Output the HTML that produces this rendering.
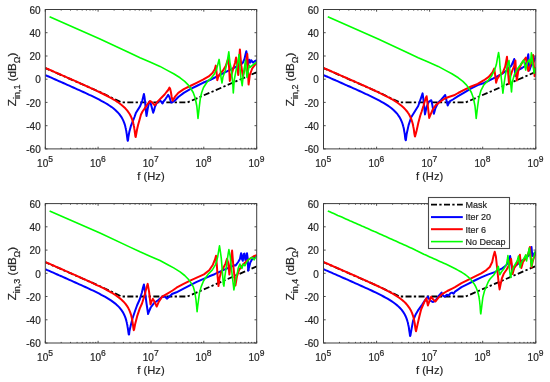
<!DOCTYPE html>
<html><head><meta charset="utf-8"><title>Zin plots</title>
<style>
html,body{margin:0;padding:0;background:#fff;}
body{width:550px;height:382px;overflow:hidden;}
svg{display:block;font-family:"Liberation Sans",Arial,Helvetica,sans-serif;fill:#262626;}
text{stroke:#262626;stroke-width:0.2;}
.ax{fill:none;stroke:#3c3c3c;stroke-width:1;}
.tk{stroke:#3c3c3c;stroke-width:0.9;fill:none;}
.tl{font-size:10px;}
.ex{font-size:8.5px;}
.lb{font-size:11.2px;}
.yl{font-size:11.6px;}
.sb{font-size:9px;}
.lg{font-size:9px;}
.c{fill:none;stroke-width:2;stroke-linejoin:round;stroke-linecap:butt;}
.k{stroke:#000;stroke-width:1.8;stroke-dasharray:6 2.3 2.3 2.4;}
.b{stroke:#0000ff;}
.r{stroke:#ff0000;}
.g{stroke:#00ff00;stroke-width:1.6;}
</style></head><body>
<svg width="550" height="382" viewBox="0 0 550 382">
<rect x="0" y="0" width="550" height="382" fill="#fff"/>

<g>
<clipPath id="cpTL"><rect x="45.3" y="9.5" width="211.4" height="139.4"/></clipPath>
<g clip-path="url(#cpTL)">
<path class="c k" d="M45.3 68.1 L85 85.5 L100 92.1 L121.6 102.4 L187.5 102.4 L256.9 72.2" style="stroke-dashoffset:1.6"/>
<path class="c b" d="M45.3 75.1 L47.3 76 L49.3 76.8 L51.3 77.7 L53.3 78.6 L55.3 79.5 L57.3 80.4 L59.3 81.3 L61.3 82.1 L63.3 83 L65.3 83.9 L67.3 84.8 L69.3 85.7 L71.3 86.6 L73.3 87.5 L75.3 88.4 L77.3 89.3 L79.3 90.2 L81.3 91.1 L83.3 92 L85.3 92.9 L87.3 93.8 L89.3 94.8 L91.3 95.7 L93.3 96.7 L95.3 97.7 L97.3 98.7 L99.3 99.7 L101.3 100.8 L103.3 101.8 L105.3 103 L107.3 104.2 L109.3 105.5 L111.3 106.8 L113.3 108.3 L115.3 110 L117.3 111.9 L119.3 114.1 L121.3 116.9 L121.8 117.7 L122.3 118.6 L122.8 119.6 L123.3 120.6 L123.8 121.8 L124.3 123.1 L124.8 124.6 L125.3 126.4 L125.5 127.4 L125.8 128.5 L126 129.7 L126.3 131.1 L126.5 132.6 L126.8 134.3 L127 136.2 L127.3 138.3 L127.5 140 L127.8 140.8 L128.1 140 L128.4 137 L129.3 132 L130.9 125.9 L132.5 122 L134.5 117 L136 112.7 L138.6 108.6 L140.2 106 L142.3 100.6 L143.3 96.5 L143.9 94 L144.5 97 L145 101 L146 112 L146.5 116 L147 113 L147.7 108.9 L148.6 104.5 L149.4 101.5 L150.2 102.3 L151.1 104.7 L152.2 109 L153.2 112.7 L154 110.5 L154.8 107.2 L156.2 104 L157.8 101.8 L160.3 100.6 L161.5 102.2 L162.4 103.5 L163.5 101.5 L165.3 99.3 L167 96.8 L168.2 94.9 L169 96.2 L169.6 97.5 L170.5 100.5 L171.3 102.6 L172.5 102.3 L174.7 100.7 L178.3 97 L183.8 92.9 L190.2 89.2 L196.6 86 L203 82.8 L210 80 L222 73.9 L231.4 69.2 L240.9 64.5 L243 62.5 L244.5 59 L245.6 54 L246.3 51.3 L247 55 L247.9 65.4 L248.6 62 L249.3 59.8 L250.3 62.6 L251.2 60.2 L253.1 62.6 L255 61 L257 60.2"/>
<path class="c r" d="M45.3 67.9 L47.3 68.8 L49.3 69.6 L51.3 70.5 L53.3 71.4 L55.3 72.3 L57.3 73.2 L59.3 74 L61.3 74.9 L63.3 75.8 L65.3 76.7 L67.3 77.6 L69.3 78.5 L71.3 79.3 L73.3 80.2 L75.3 81.1 L77.3 82 L79.3 82.9 L81.3 83.8 L83.3 84.7 L85.3 85.6 L87.3 86.5 L89.3 87.4 L91.3 88.3 L93.3 89.2 L95.3 90.2 L97.3 91.1 L99.3 92 L101.3 93 L103.3 94 L105.3 95 L107.3 96 L109.3 97.1 L111.3 98.2 L113.3 99.3 L115.3 100.5 L117.3 101.8 L119.3 103.2 L121.3 104.7 L123.3 106.4 L125.3 108.3 L127.3 110.6 L129.3 113.5 L129.8 114.3 L130.3 115.2 L130.8 116.2 L131.3 117.3 L131.8 118.5 L132.3 119.9 L132.8 121.5 L133.1 122.4 L133.3 123.4 L133.6 124.5 L133.8 125.7 L134.1 127 L134.3 128.5 L134.6 130.2 L134.8 132.1 L135.1 134.1 L135.3 136 L135.6 137.1 L135.8 136.6 L137.1 129.3 L138.2 124.5 L139.5 120 L141 114.5 L142.5 111.5 L144.4 108.9 L147.7 103.9 L150.2 101 L151.5 101.8 L152.7 103.1 L154 104.6 L154.8 105.2 L156 103.8 L157.8 101.4 L161.9 97.2 L164.6 94.5 L166.5 92 L168.2 90 L169.5 87.6 L170.2 89 L170.9 92 L171.7 97 L172.6 100.8 L173.3 99.5 L175.1 96.6 L178.3 92.9 L183.8 89.2 L190.2 86 L196.6 82.8 L203 79.6 L208.7 76.4 L212.5 73.1 L214.8 69.3 L215.8 65.6 L216.4 70.7 L217.3 80.2 L218.1 77.3 L220 73.6 L222.9 70.7 L225.7 66 L227.6 60.4 L228.5 58.5 L229.2 68.9 L229.8 81 L230.9 76.4 L233.2 68.9 L235 63 L236.1 57.4 L237.1 63.5 L238.2 75 L239 62 L239.9 49.4 L240.6 58 L241.3 65.4 L242.3 73 L243 76 L244.5 70 L246 61.7 L247.3 54.1 L247.9 70.1 L248.6 84.5 L249.8 75 L252.2 68.5 L254.5 65.3 L257 62.8"/>
<path class="c g" d="M49.6 16.8 L100 39 L130 53 L140 57.7 L150 62.1 L160 66.4 L167.8 70.6 L173.7 73.8 L180.1 77.8 L184.7 81.4 L188.4 85.1 L190.8 88.5 L193.2 92.5 L195.2 98 L196.8 106 L197.6 114 L198 118.5 L198.5 114 L199.4 105.9 L200.4 98 L201.7 92.5 L203.5 87.5 L205.8 84 L207.8 81.1 L211.5 77.8 L214.4 74 L216.7 68.9 L218.1 63.2 L219.1 59.4 L220 66 L221 77.3 L222 83 L222.9 77.3 L225.2 70.7 L227.1 62.3 L228.8 51.8 L229.9 62.3 L231.4 70.1 L232.8 84.3 L233.3 93 L233.8 86 L234.3 79.6 L236.1 70.1 L238.5 58.8 L239 54.6 L239.9 67.3 L240.9 77.7 L242.2 85.7 L242.9 78.6 L244.1 70.1 L245.6 60.3 L246.2 70 L247 77.5 L248.4 70.1 L249.3 65.4 L250.3 67.3 L252.2 65.4 L255 63.5 L257 61.7"/>
</g>
<path class="tk" d="M45.3 148.9 v-2.2 M45.3 9.5 v2.2 M61.2 148.9 v-1.1 M61.2 9.5 v1.1 M70.5 148.9 v-1.1 M70.5 9.5 v1.1 M77.1 148.9 v-1.1 M77.1 9.5 v1.1 M82.2 148.9 v-1.1 M82.2 9.5 v1.1 M86.4 148.9 v-1.1 M86.4 9.5 v1.1 M90 148.9 v-1.1 M90 9.5 v1.1 M93 148.9 v-1.1 M93 9.5 v1.1 M95.7 148.9 v-1.1 M95.7 9.5 v1.1 M98.1 148.9 v-2.2 M98.1 9.5 v2.2 M114.1 148.9 v-1.1 M114.1 9.5 v1.1 M123.4 148.9 v-1.1 M123.4 9.5 v1.1 M130 148.9 v-1.1 M130 9.5 v1.1 M135.1 148.9 v-1.1 M135.1 9.5 v1.1 M139.3 148.9 v-1.1 M139.3 9.5 v1.1 M142.8 148.9 v-1.1 M142.8 9.5 v1.1 M145.9 148.9 v-1.1 M145.9 9.5 v1.1 M148.6 148.9 v-1.1 M148.6 9.5 v1.1 M151 148.9 v-2.2 M151 9.5 v2.2 M166.9 148.9 v-1.1 M166.9 9.5 v1.1 M176.2 148.9 v-1.1 M176.2 9.5 v1.1 M182.8 148.9 v-1.1 M182.8 9.5 v1.1 M187.9 148.9 v-1.1 M187.9 9.5 v1.1 M192.1 148.9 v-1.1 M192.1 9.5 v1.1 M195.7 148.9 v-1.1 M195.7 9.5 v1.1 M198.7 148.9 v-1.1 M198.7 9.5 v1.1 M201.4 148.9 v-1.1 M201.4 9.5 v1.1 M203.8 148.9 v-2.2 M203.8 9.5 v2.2 M219.8 148.9 v-1.1 M219.8 9.5 v1.1 M229.1 148.9 v-1.1 M229.1 9.5 v1.1 M235.7 148.9 v-1.1 M235.7 9.5 v1.1 M240.8 148.9 v-1.1 M240.8 9.5 v1.1 M245 148.9 v-1.1 M245 9.5 v1.1 M248.5 148.9 v-1.1 M248.5 9.5 v1.1 M251.6 148.9 v-1.1 M251.6 9.5 v1.1 M254.3 148.9 v-1.1 M254.3 9.5 v1.1 M256.7 148.9 v-2.2 M256.7 9.5 v2.2 M45.3 9.5 h2.2 M256.7 9.5 h-2.2 M45.3 32.7 h2.2 M256.7 32.7 h-2.2 M45.3 56 h2.2 M256.7 56 h-2.2 M45.3 79.2 h2.2 M256.7 79.2 h-2.2 M45.3 102.4 h2.2 M256.7 102.4 h-2.2 M45.3 125.7 h2.2 M256.7 125.7 h-2.2 M45.3 148.9 h2.2 M256.7 148.9 h-2.2"/>
<rect class="ax" x="45.3" y="9.5" width="211.4" height="139.4"/>
<text class="tl" text-anchor="end" x="40.7" y="13.7">60</text>
<text class="tl" text-anchor="end" x="40.7" y="36.9">40</text>
<text class="tl" text-anchor="end" x="40.7" y="60.2">20</text>
<text class="tl" text-anchor="end" x="40.7" y="83.4">0</text>
<text class="tl" text-anchor="end" x="40.7" y="106.6">-20</text>
<text class="tl" text-anchor="end" x="40.7" y="129.9">-40</text>
<text class="tl" text-anchor="end" x="40.7" y="153.1">-60</text>
<text class="tl" x="37.1" y="166.7">10<tspan class="ex" dy="-5">5</tspan></text>
<text class="tl" x="89.9" y="166.7">10<tspan class="ex" dy="-5">6</tspan></text>
<text class="tl" x="142.8" y="166.7">10<tspan class="ex" dy="-5">7</tspan></text>
<text class="tl" x="195.6" y="166.7">10<tspan class="ex" dy="-5">8</tspan></text>
<text class="tl" x="248.5" y="166.7">10<tspan class="ex" dy="-5">9</tspan></text>
<text class="lb" text-anchor="middle" x="151" y="180.3">f (Hz)</text>
<text class="lb yl" text-anchor="middle" transform="translate(16.3 79.4) rotate(-90)">Z<tspan class="sb" dy="3.8">in,1</tspan><tspan dy="-3.8"> (dB</tspan><tspan class="sb" dy="3.8">Ω</tspan><tspan dy="-3.8">)</tspan></text>
</g>
<g>
<clipPath id="cpTR"><rect x="323.5" y="9.5" width="212.3" height="139.4"/></clipPath>
<g clip-path="url(#cpTR)">
<path class="c k" d="M323.5 68.1 L363.2 85.5 L378.2 92.1 L399.8 102.4 L465.7 102.4 L535.1 72.2" style="stroke-dashoffset:1.6"/>
<path class="c b" d="M323.5 75.1 L325.5 76 L327.5 76.8 L329.5 77.7 L331.5 78.6 L333.5 79.5 L335.5 80.3 L337.5 81.2 L339.5 82.1 L341.5 83 L343.5 83.9 L345.5 84.8 L347.5 85.7 L349.5 86.5 L351.5 87.4 L353.5 88.3 L355.5 89.2 L357.5 90.1 L359.5 91 L361.5 91.9 L363.5 92.8 L365.5 93.8 L367.5 94.7 L369.5 95.7 L371.5 96.6 L373.5 97.6 L375.5 98.6 L377.5 99.6 L379.5 100.7 L381.5 101.8 L383.5 102.9 L385.5 104.1 L387.5 105.4 L389.5 106.8 L391.5 108.3 L393.5 110 L395.5 112 L397.5 114.2 L399.5 117.1 L400 118 L400.5 118.9 L401 120 L401.5 121.1 L402 122.3 L402.5 123.8 L403 125.4 L403.2 126.3 L403.5 127.3 L403.8 128.5 L404 129.7 L404.2 131.1 L404.5 132.6 L404.8 134.3 L405 136.2 L405.2 138.2 L405.5 139.7 L405.8 140.2 L406 139.2 L406.6 134.3 L408.6 125.1 L411.2 117.3 L414 112.8 L418.2 106 L420.8 98.7 L422.6 93.4 L423.6 100.8 L425 114.4 L426.6 107 L428.7 101.8 L431.3 100.2 L432.3 104.9 L433.9 113.8 L435.5 108.1 L438.1 102.8 L441.2 99.7 L443.8 96.6 L445.2 95 L446.3 99.7 L447.7 105.5 L449.6 101.4 L452.9 99.5 L458.1 96.2 L464.6 92.3 L471.2 88.3 L477.7 85.1 L484 83 L493.4 78.4 L502.9 73.3 L506.6 70.5 L511.3 65.8 L513 62 L514.2 59 L514.8 68 L515.2 76 L516 72 L518 70 L522 68 L525 66 L527 61 L528.3 54.2 L529.4 70.5 L531 66 L533 63 L534.5 60 L535.6 56.4 L536 58"/>
<path class="c r" d="M323.5 67.9 L325.5 68.8 L327.5 69.6 L329.5 70.5 L331.5 71.4 L333.5 72.3 L335.5 73.1 L337.5 74 L339.5 74.9 L341.5 75.8 L343.5 76.7 L345.5 77.5 L347.5 78.4 L349.5 79.3 L351.5 80.2 L353.5 81 L355.5 81.9 L357.5 82.8 L359.5 83.7 L361.5 84.6 L363.5 85.5 L365.5 86.4 L367.5 87.3 L369.5 88.2 L371.5 89.1 L373.5 90 L375.5 91 L377.5 91.9 L379.5 92.9 L381.5 93.8 L383.5 94.8 L385.5 95.8 L387.5 96.9 L389.5 97.9 L391.5 99 L393.5 100.2 L395.5 101.4 L397.5 102.8 L399.5 104.2 L401.5 105.8 L403.5 107.5 L405.5 109.6 L407.5 112 L408 112.8 L408.5 113.5 L409 114.3 L409.5 115.2 L410 116.2 L410.5 117.2 L411 118.4 L411.5 119.7 L412 121.2 L412.5 123 L412.8 124 L413 125 L413.2 126.2 L413.5 127.6 L413.8 129.1 L414 130.7 L414.2 132.5 L414.5 134.4 L414.8 135.9 L415 136.6 L415.2 135.9 L416.4 131.6 L418.4 122.5 L420.3 115.5 L421.5 112 L423.4 106 L425.5 98.7 L426.6 96.2 L427.6 104 L429.2 118 L430.8 114 L432.8 109.5 L436 104.9 L440.2 101.8 L444.4 98.7 L448.6 97 L454 95.3 L458.1 93 L464.6 89.7 L471.2 86.5 L477.7 83.9 L484 80.2 L488.7 76.9 L492.5 72.5 L494.2 68.6 L495.1 74.3 L496.1 82.7 L497.2 79 L499.6 75.2 L502.9 72.4 L505.2 66.7 L507 56.8 L508 71.4 L509 83.7 L510.4 76.1 L512.3 70.5 L514.2 65.8 L515.4 60.5 L516 71 L516.8 80.5 L518.4 70 L521.5 63.7 L525.9 57.6 L527.3 66.8 L528.3 71 L530 66 L532 60 L533.1 55 L534.6 76.3 L535.5 70 L536 68"/>
<path class="c g" d="M327.8 16.8 L378.2 39 L408.2 53 L418.2 57.7 L428.2 62.1 L438.2 66.4 L446 70.6 L451.9 73.8 L458.3 77.8 L462.9 81.4 L466.6 85.1 L469 88.5 L471.4 92.5 L473.4 98 L475 106 L475.8 114 L476.2 118.5 L477.5 107.3 L478.8 98.1 L481 90.3 L484 84.6 L487.8 80.9 L491.5 76.1 L494.4 70.5 L496.3 64.8 L497.5 58 L498.6 52.5 L499.4 58 L500 66.7 L501.4 79 L502.9 93.1 L503.8 85.6 L505.2 76.1 L507.1 66.7 L508.3 62 L509 60.5 L509.9 71.4 L510.9 85.6 L511.5 92 L512.3 82 L514.2 75.2 L517.3 68.9 L520.5 64.8 L523.6 60 L524.7 64.8 L525.7 70 L526.8 63.7 L529.4 59.5 L530.4 63.7 L531.4 52.8 L532.5 61.6 L534.1 73.1 L535.1 69 L536 67"/>
</g>
<path class="tk" d="M323.5 148.9 v-2.2 M323.5 9.5 v2.2 M339.5 148.9 v-1.1 M339.5 9.5 v1.1 M348.8 148.9 v-1.1 M348.8 9.5 v1.1 M355.5 148.9 v-1.1 M355.5 9.5 v1.1 M360.6 148.9 v-1.1 M360.6 9.5 v1.1 M364.8 148.9 v-1.1 M364.8 9.5 v1.1 M368.4 148.9 v-1.1 M368.4 9.5 v1.1 M371.4 148.9 v-1.1 M371.4 9.5 v1.1 M374.1 148.9 v-1.1 M374.1 9.5 v1.1 M376.6 148.9 v-2.2 M376.6 9.5 v2.2 M392.6 148.9 v-1.1 M392.6 9.5 v1.1 M401.9 148.9 v-1.1 M401.9 9.5 v1.1 M408.5 148.9 v-1.1 M408.5 9.5 v1.1 M413.7 148.9 v-1.1 M413.7 9.5 v1.1 M417.9 148.9 v-1.1 M417.9 9.5 v1.1 M421.4 148.9 v-1.1 M421.4 9.5 v1.1 M424.5 148.9 v-1.1 M424.5 9.5 v1.1 M427.2 148.9 v-1.1 M427.2 9.5 v1.1 M429.6 148.9 v-2.2 M429.6 9.5 v2.2 M445.6 148.9 v-1.1 M445.6 9.5 v1.1 M455 148.9 v-1.1 M455 9.5 v1.1 M461.6 148.9 v-1.1 M461.6 9.5 v1.1 M466.7 148.9 v-1.1 M466.7 9.5 v1.1 M471 148.9 v-1.1 M471 9.5 v1.1 M474.5 148.9 v-1.1 M474.5 9.5 v1.1 M477.6 148.9 v-1.1 M477.6 9.5 v1.1 M480.3 148.9 v-1.1 M480.3 9.5 v1.1 M482.7 148.9 v-2.2 M482.7 9.5 v2.2 M498.7 148.9 v-1.1 M498.7 9.5 v1.1 M508 148.9 v-1.1 M508 9.5 v1.1 M514.7 148.9 v-1.1 M514.7 9.5 v1.1 M519.8 148.9 v-1.1 M519.8 9.5 v1.1 M524 148.9 v-1.1 M524 9.5 v1.1 M527.6 148.9 v-1.1 M527.6 9.5 v1.1 M530.7 148.9 v-1.1 M530.7 9.5 v1.1 M533.4 148.9 v-1.1 M533.4 9.5 v1.1 M535.8 148.9 v-2.2 M535.8 9.5 v2.2 M323.5 9.5 h2.2 M535.8 9.5 h-2.2 M323.5 32.7 h2.2 M535.8 32.7 h-2.2 M323.5 56 h2.2 M535.8 56 h-2.2 M323.5 79.2 h2.2 M535.8 79.2 h-2.2 M323.5 102.4 h2.2 M535.8 102.4 h-2.2 M323.5 125.7 h2.2 M535.8 125.7 h-2.2 M323.5 148.9 h2.2 M535.8 148.9 h-2.2"/>
<rect class="ax" x="323.5" y="9.5" width="212.3" height="139.4"/>
<text class="tl" text-anchor="end" x="318.9" y="13.7">60</text>
<text class="tl" text-anchor="end" x="318.9" y="36.9">40</text>
<text class="tl" text-anchor="end" x="318.9" y="60.2">20</text>
<text class="tl" text-anchor="end" x="318.9" y="83.4">0</text>
<text class="tl" text-anchor="end" x="318.9" y="106.6">-20</text>
<text class="tl" text-anchor="end" x="318.9" y="129.9">-40</text>
<text class="tl" text-anchor="end" x="318.9" y="153.1">-60</text>
<text class="tl" x="315.3" y="166.7">10<tspan class="ex" dy="-5">5</tspan></text>
<text class="tl" x="368.4" y="166.7">10<tspan class="ex" dy="-5">6</tspan></text>
<text class="tl" x="421.4" y="166.7">10<tspan class="ex" dy="-5">7</tspan></text>
<text class="tl" x="474.5" y="166.7">10<tspan class="ex" dy="-5">8</tspan></text>
<text class="tl" x="527.6" y="166.7">10<tspan class="ex" dy="-5">9</tspan></text>
<text class="lb" text-anchor="middle" x="429.6" y="180.3">f (Hz)</text>
<text class="lb yl" text-anchor="middle" transform="translate(294.2 79.4) rotate(-90)">Z<tspan class="sb" dy="3.8">in,2</tspan><tspan dy="-3.8"> (dB</tspan><tspan class="sb" dy="3.8">Ω</tspan><tspan dy="-3.8">)</tspan></text>
</g>
<g>
<clipPath id="cpBL"><rect x="45.3" y="203.6" width="211.4" height="139.4"/></clipPath>
<g clip-path="url(#cpBL)">
<path class="c k" d="M45.3 262.2 L85 279.6 L100 286.2 L121.6 296.5 L187.5 296.5 L256.9 266.3" style="stroke-dashoffset:1.6"/>
<path class="c b" d="M45.3 269.2 L47.3 270.1 L49.3 270.9 L51.3 271.8 L53.3 272.7 L55.3 273.6 L57.3 274.5 L59.3 275.4 L61.3 276.2 L63.3 277.1 L65.3 278 L67.3 278.9 L69.3 279.8 L71.3 280.7 L73.3 281.6 L75.3 282.5 L77.3 283.4 L79.3 284.3 L81.3 285.2 L83.3 286.1 L85.3 287 L87.3 287.9 L89.3 288.8 L91.3 289.8 L93.3 290.7 L95.3 291.7 L97.3 292.7 L99.3 293.7 L101.3 294.8 L103.3 295.8 L105.3 296.9 L107.3 298.1 L109.3 299.3 L111.3 300.6 L113.3 302.1 L115.3 303.6 L117.3 305.4 L119.3 307.4 L121.3 309.9 L121.8 310.6 L122.3 311.3 L122.8 312.1 L123.3 313 L123.8 313.9 L124.3 315 L124.8 316.1 L125.3 317.4 L125.8 318.9 L126.3 320.6 L126.5 321.5 L126.8 322.6 L127 323.7 L127.3 325 L127.5 326.4 L127.8 328 L128.1 329.8 L128.3 331.7 L128.6 333.5 L128.8 334.6 L129.1 334.4 L129.5 331 L130.6 326 L132.5 318.5 L135.2 310.5 L137.2 305 L139.7 299.5 L141.9 292.5 L143 287.5 L143.9 284.5 L144.9 290.8 L146.5 303.3 L147.5 310 L148.1 314 L149.2 311 L150.7 307.5 L153.8 303.3 L158 300.2 L162.2 296.8 L164.8 296.5 L166.9 298.6 L169.5 296.5 L172 294 L176.5 292.3 L183.1 288.8 L196.2 282.2 L209.3 276.3 L214.5 274.2 L224.9 269.4 L234.4 265.3 L235.7 265.4 L238.2 262 L239.9 259.1 L241.1 253.2 L242 259.1 L242.8 260.8 L243.6 254.1 L244.5 253.6 L245.3 259.9 L246.1 259.1 L247 253.2 L247.8 259.1 L248.2 270.8 L249.5 265.8 L250.3 262.4 L252 259.5 L254 258 L256.9 255.5"/>
<path class="c r" d="M45.3 262 L47.3 262.9 L49.3 263.7 L51.3 264.6 L53.3 265.5 L55.3 266.4 L57.3 267.3 L59.3 268.1 L61.3 269 L63.3 269.9 L65.3 270.8 L67.3 271.7 L69.3 272.6 L71.3 273.4 L73.3 274.3 L75.3 275.2 L77.3 276.1 L79.3 277 L81.3 277.9 L83.3 278.8 L85.3 279.7 L87.3 280.6 L89.3 281.5 L91.3 282.4 L93.3 283.4 L95.3 284.3 L97.3 285.3 L99.3 286.2 L101.3 287.2 L103.3 288.2 L105.3 289.2 L107.3 290.3 L109.3 291.4 L111.3 292.5 L113.3 293.7 L115.3 295 L117.3 296.4 L119.3 297.9 L121.3 299.5 L123.3 301.4 L125.3 303.6 L127.3 306.4 L127.8 307.2 L128.3 308.1 L128.8 309.1 L129.3 310.2 L129.8 311.3 L130.3 312.7 L130.8 314.2 L131.1 315 L131.3 315.9 L131.6 316.9 L131.8 318 L132.1 319.2 L132.3 320.6 L132.6 322.1 L132.8 323.8 L133.1 325.7 L133.3 327.7 L133.6 329.5 L133.8 330.2 L134.1 329.5 L135.1 324.3 L137.1 316.4 L139.7 308.6 L142 303.5 L144.4 296 L146.5 287.6 L147.7 283.9 L149.1 291.8 L150.5 304.4 L151.7 301.2 L152.8 298.8 L154.8 302.3 L156.7 306.5 L158.5 302.3 L162.2 296.6 L167.4 293.6 L172.6 290.5 L176.5 287.7 L183.1 284.1 L189.6 280.8 L196.2 277.9 L204 274.4 L209.2 270.2 L212.9 264.7 L215 259.4 L216 255.8 L216.8 264.7 L217.6 276.2 L218.5 286.1 L219.5 278.3 L220.8 273 L223.4 267.8 L225.5 263.6 L227 258.8 L228 262 L229.4 274.6 L230.5 264 L232.1 250.6 L233.3 265.7 L234.9 280.4 L235.4 285.6 L237 276.2 L239.1 269.9 L243 264.5 L248 260 L253.3 256.5 L256.9 255"/>
<path class="c g" d="M49.6 210.9 L100 233.1 L130 247.1 L140 251.8 L150 256.2 L160 260.5 L167.8 264.7 L173.7 267.9 L180.1 271.9 L184.7 275.5 L188.4 279.2 L190.8 282.6 L193.2 286.6 L194.8 292 L196 300 L196.7 307 L197.1 311.6 L197.6 307 L198.5 300 L199.6 292.1 L201.2 286.6 L203.5 281 L205.8 277.5 L208.2 274.1 L212.4 269.9 L215.5 264.7 L217.6 257.3 L218.8 250 L219.5 245.9 L220.3 251 L221.3 258.4 L222.3 270.9 L223.4 284.6 L223.9 286.1 L224.9 276.2 L226.5 265.7 L228.1 254.2 L228.9 249.6 L230.2 256.3 L231.7 270.9 L233.3 284.6 L233.9 290 L235.4 280.4 L237.5 272 L238.2 268.3 L239.9 264.1 L241.1 267.5 L242 268.3 L243.2 264.1 L244.9 265.8 L246.6 262.4 L248.2 259.9 L250.8 258.2 L252.4 257.4 L254.1 259.9 L256.2 256.6 L256.9 256"/>
</g>
<path class="tk" d="M45.3 343 v-2.2 M45.3 203.6 v2.2 M61.2 343 v-1.1 M61.2 203.6 v1.1 M70.5 343 v-1.1 M70.5 203.6 v1.1 M77.1 343 v-1.1 M77.1 203.6 v1.1 M82.2 343 v-1.1 M82.2 203.6 v1.1 M86.4 343 v-1.1 M86.4 203.6 v1.1 M90 343 v-1.1 M90 203.6 v1.1 M93 343 v-1.1 M93 203.6 v1.1 M95.7 343 v-1.1 M95.7 203.6 v1.1 M98.1 343 v-2.2 M98.1 203.6 v2.2 M114.1 343 v-1.1 M114.1 203.6 v1.1 M123.4 343 v-1.1 M123.4 203.6 v1.1 M130 343 v-1.1 M130 203.6 v1.1 M135.1 343 v-1.1 M135.1 203.6 v1.1 M139.3 343 v-1.1 M139.3 203.6 v1.1 M142.8 343 v-1.1 M142.8 203.6 v1.1 M145.9 343 v-1.1 M145.9 203.6 v1.1 M148.6 343 v-1.1 M148.6 203.6 v1.1 M151 343 v-2.2 M151 203.6 v2.2 M166.9 343 v-1.1 M166.9 203.6 v1.1 M176.2 343 v-1.1 M176.2 203.6 v1.1 M182.8 343 v-1.1 M182.8 203.6 v1.1 M187.9 343 v-1.1 M187.9 203.6 v1.1 M192.1 343 v-1.1 M192.1 203.6 v1.1 M195.7 343 v-1.1 M195.7 203.6 v1.1 M198.7 343 v-1.1 M198.7 203.6 v1.1 M201.4 343 v-1.1 M201.4 203.6 v1.1 M203.8 343 v-2.2 M203.8 203.6 v2.2 M219.8 343 v-1.1 M219.8 203.6 v1.1 M229.1 343 v-1.1 M229.1 203.6 v1.1 M235.7 343 v-1.1 M235.7 203.6 v1.1 M240.8 343 v-1.1 M240.8 203.6 v1.1 M245 343 v-1.1 M245 203.6 v1.1 M248.5 343 v-1.1 M248.5 203.6 v1.1 M251.6 343 v-1.1 M251.6 203.6 v1.1 M254.3 343 v-1.1 M254.3 203.6 v1.1 M256.7 343 v-2.2 M256.7 203.6 v2.2 M45.3 203.6 h2.2 M256.7 203.6 h-2.2 M45.3 226.8 h2.2 M256.7 226.8 h-2.2 M45.3 250.1 h2.2 M256.7 250.1 h-2.2 M45.3 273.3 h2.2 M256.7 273.3 h-2.2 M45.3 296.5 h2.2 M256.7 296.5 h-2.2 M45.3 319.8 h2.2 M256.7 319.8 h-2.2 M45.3 343 h2.2 M256.7 343 h-2.2"/>
<rect class="ax" x="45.3" y="203.6" width="211.4" height="139.4"/>
<text class="tl" text-anchor="end" x="40.7" y="207.8">60</text>
<text class="tl" text-anchor="end" x="40.7" y="231">40</text>
<text class="tl" text-anchor="end" x="40.7" y="254.3">20</text>
<text class="tl" text-anchor="end" x="40.7" y="277.5">0</text>
<text class="tl" text-anchor="end" x="40.7" y="300.7">-20</text>
<text class="tl" text-anchor="end" x="40.7" y="324">-40</text>
<text class="tl" text-anchor="end" x="40.7" y="347.2">-60</text>
<text class="tl" x="37.1" y="360.8">10<tspan class="ex" dy="-5">5</tspan></text>
<text class="tl" x="89.9" y="360.8">10<tspan class="ex" dy="-5">6</tspan></text>
<text class="tl" x="142.8" y="360.8">10<tspan class="ex" dy="-5">7</tspan></text>
<text class="tl" x="195.6" y="360.8">10<tspan class="ex" dy="-5">8</tspan></text>
<text class="tl" x="248.5" y="360.8">10<tspan class="ex" dy="-5">9</tspan></text>
<text class="lb" text-anchor="middle" x="151" y="374.4">f (Hz)</text>
<text class="lb yl" text-anchor="middle" transform="translate(16.3 273.5) rotate(-90)">Z<tspan class="sb" dy="3.8">in,3</tspan><tspan dy="-3.8"> (dB</tspan><tspan class="sb" dy="3.8">Ω</tspan><tspan dy="-3.8">)</tspan></text>
</g>
<g>
<clipPath id="cpBR"><rect x="323.5" y="203.6" width="212.3" height="139.4"/></clipPath>
<g clip-path="url(#cpBR)">
<path class="c k" d="M323.5 262.2 L363.2 279.6 L378.2 286.2 L399.8 296.5 L465.7 296.5 L535.1 266.3" style="stroke-dashoffset:1.6"/>
<path class="c b" d="M323.5 269.2 L325.5 270.1 L327.5 270.9 L329.5 271.8 L331.5 272.7 L333.5 273.6 L335.5 274.4 L337.5 275.3 L339.5 276.2 L341.5 277.1 L343.5 278 L345.5 278.8 L347.5 279.7 L349.5 280.6 L351.5 281.5 L353.5 282.4 L355.5 283.3 L357.5 284.2 L359.5 285.1 L361.5 286 L363.5 286.9 L365.5 287.8 L367.5 288.7 L369.5 289.6 L371.5 290.5 L373.5 291.5 L375.5 292.4 L377.5 293.4 L379.5 294.4 L381.5 295.4 L383.5 296.5 L385.5 297.6 L387.5 298.7 L389.5 299.9 L391.5 301.2 L393.5 302.5 L395.5 304 L397.5 305.6 L399.5 307.5 L401.5 309.7 L403.5 312.4 L404 313.2 L404.5 314.1 L405 315 L405.5 316 L406 317.1 L406.5 318.4 L407 319.8 L407.5 321.5 L407.8 322.4 L408 323.4 L408.2 324.5 L408.5 325.7 L408.8 327.1 L409 328.6 L409.2 330.3 L409.5 332.2 L409.8 334.1 L410 335.6 L410.2 336 L410.5 335.1 L411.6 328.6 L413.1 320.7 L415.8 314.2 L418 310.4 L422.2 304.6 L425.3 299.9 L427.9 296.7 L430 300.4 L432.7 302 L435.3 300.9 L438.9 295.7 L441.6 292.6 L443.1 295.7 L444.7 296.8 L446.8 294.7 L448.4 295.7 L450.5 293.1 L452 292.6 L453.6 293.6 L455 291.6 L461.5 287.1 L468.1 283.8 L474.6 280.5 L481.2 277.3 L487.7 274.6 L494.7 272.1 L502.3 268.4 L506 265.5 L508.1 262.5 L509.4 258.5 L510.1 256 L511 262 L512.4 272.1 L514.5 266.5 L518.3 263.7 L522 260.5 L526 258 L529 255 L530.5 250 L531.5 247 L532.3 256 L533.5 255 L534.6 252.8 L536 252"/>
<path class="c r" d="M323.5 262 L325.5 262.9 L327.5 263.7 L329.5 264.6 L331.5 265.5 L333.5 266.4 L335.5 267.2 L337.5 268.1 L339.5 269 L341.5 269.9 L343.5 270.8 L345.5 271.6 L347.5 272.5 L349.5 273.4 L351.5 274.3 L353.5 275.1 L355.5 276 L357.5 276.9 L359.5 277.8 L361.5 278.7 L363.5 279.6 L365.5 280.5 L367.5 281.4 L369.5 282.3 L371.5 283.2 L373.5 284.1 L375.5 285 L377.5 286 L379.5 286.9 L381.5 287.9 L383.5 288.9 L385.5 289.9 L387.5 290.9 L389.5 291.9 L391.5 293 L393.5 294.2 L395.5 295.4 L397.5 296.6 L399.5 298 L401.5 299.5 L403.5 301.1 L405.5 303 L407.5 305.3 L409.5 308.1 L410 308.9 L410.5 309.8 L411 310.7 L411.5 311.8 L412 312.9 L412.5 314.3 L413 315.8 L413.5 317.5 L413.8 318.5 L414 319.6 L414.2 320.8 L414.5 322.1 L414.8 323.6 L415 325.3 L415.2 327.1 L415.5 329 L415.8 330.5 L416 331.2 L416.2 330.5 L417.5 324.6 L419.3 316.8 L421.1 309.5 L424.3 302 L426.4 298.3 L427.9 305.5 L429.5 300.9 L431.1 296.8 L433.2 299.4 L435.3 301.5 L437.9 298.3 L442.1 294.1 L447.3 291 L452.6 288.4 L455 287.1 L461.5 283.1 L468.1 279.9 L474.6 276.6 L481.2 273.3 L486.4 270.1 L489.8 267 L492.2 262 L493.5 256 L494.7 251.8 L495.9 256.5 L496.8 265 L497.8 274.5 L498.8 284 L499.6 289.4 L500.6 284.4 L501.8 278.7 L503.7 273.8 L506.5 269.8 L508.9 265.5 L510.3 260.8 L511.1 258.9 L511.9 265.5 L512.6 274 L514 268.4 L516.4 264.6 L518.3 261.8 L519.9 254.8 L520.6 262 L521.3 268 L523 262 L526 258 L528.5 253 L529.9 247 L530.8 258 L531.5 267.4 L532.8 261 L534.5 256 L536 253"/>
<path class="c g" d="M327.8 210.9 L329.8 211.8 L331.8 212.7 L333.8 213.6 L335.8 214.5 L337.8 215.4 L339.8 216.2 L341.8 217.1 L343.8 218 L345.8 218.9 L347.8 219.8 L349.8 220.7 L351.8 221.5 L353.8 222.4 L355.8 223.3 L357.8 224.2 L359.8 225.1 L361.8 226 L363.8 226.8 L365.8 227.7 L367.8 228.6 L369.8 229.5 L371.8 230.4 L373.8 231.3 L375.8 232.1 L377.8 233 L379.8 233.9 L381.8 234.8 L383.8 235.7 L385.8 236.6 L387.8 237.5 L389.8 238.4 L391.8 239.3 L393.8 240.2 L395.8 241.1 L397.8 242 L399.8 242.9 L401.8 243.8 L403.8 244.7 L405.8 245.6 L407.8 246.5 L409.8 247.4 L411.8 248.3 L413.8 249.3 L415.8 250.3 L417.8 251.2 L419.8 252.2 L421.8 253.2 L423.8 254.2 L425.8 255.1 L427.8 256 L429.8 256.9 L431.8 257.8 L433.8 258.7 L435.8 259.6 L437.8 260.5 L439.8 261.4 L441.8 262.3 L443.8 263.2 L445.8 264.1 L447.8 265 L449.8 266 L451.8 267 L453.8 268 L455.8 269 L457.8 270.1 L459.8 271.2 L461.8 272.3 L463.8 273.6 L465.8 275 L467.8 276.6 L469.8 278.5 L471.8 280.7 L473.8 283.4 L474.3 284.2 L474.8 285 L475.3 285.9 L475.8 286.9 L476.3 288 L476.8 289.2 L477.3 290.6 L477.8 292.2 L478.1 293.1 L478.3 294.1 L478.6 295.1 L478.8 296.3 L479.1 297.6 L479.3 299.2 L479.6 301 L479.8 303.2 L480.1 306 L480.3 309.5 L480.6 313.3 L480.8 313.8 L481.8 305.9 L482.8 297.6 L484.4 291.3 L486.5 286 L488.4 281.5 L490 279 L493.8 275 L496.6 270.3 L498.3 266.4 L499.1 271.2 L499.9 274.7 L501.3 272.1 L504.1 268.4 L506.5 264.6 L507.4 259.5 L507.9 255.6 L508.8 262.8 L509.8 272.1 L510.6 277.5 L511.7 272.1 L513.6 267 L516.3 262.5 L517.6 259.5 L518.5 256 L519.3 262.5 L520.1 267.4 L521.5 262.5 L524.7 257 L525.7 254.8 L526.5 261 L527.8 254.8 L529.4 248 L530.4 256.9 L531.5 266.4 L532.5 261.1 L534.1 255.9 L535.1 251.7 L536 253.5"/>
</g>
<path class="tk" d="M323.5 343 v-2.2 M323.5 203.6 v2.2 M339.5 343 v-1.1 M339.5 203.6 v1.1 M348.8 343 v-1.1 M348.8 203.6 v1.1 M355.5 343 v-1.1 M355.5 203.6 v1.1 M360.6 343 v-1.1 M360.6 203.6 v1.1 M364.8 343 v-1.1 M364.8 203.6 v1.1 M368.4 343 v-1.1 M368.4 203.6 v1.1 M371.4 343 v-1.1 M371.4 203.6 v1.1 M374.1 343 v-1.1 M374.1 203.6 v1.1 M376.6 343 v-2.2 M376.6 203.6 v2.2 M392.6 343 v-1.1 M392.6 203.6 v1.1 M401.9 343 v-1.1 M401.9 203.6 v1.1 M408.5 343 v-1.1 M408.5 203.6 v1.1 M413.7 343 v-1.1 M413.7 203.6 v1.1 M417.9 343 v-1.1 M417.9 203.6 v1.1 M421.4 343 v-1.1 M421.4 203.6 v1.1 M424.5 343 v-1.1 M424.5 203.6 v1.1 M427.2 343 v-1.1 M427.2 203.6 v1.1 M429.6 343 v-2.2 M429.6 203.6 v2.2 M445.6 343 v-1.1 M445.6 203.6 v1.1 M455 343 v-1.1 M455 203.6 v1.1 M461.6 343 v-1.1 M461.6 203.6 v1.1 M466.7 343 v-1.1 M466.7 203.6 v1.1 M471 343 v-1.1 M471 203.6 v1.1 M474.5 343 v-1.1 M474.5 203.6 v1.1 M477.6 343 v-1.1 M477.6 203.6 v1.1 M480.3 343 v-1.1 M480.3 203.6 v1.1 M482.7 343 v-2.2 M482.7 203.6 v2.2 M498.7 343 v-1.1 M498.7 203.6 v1.1 M508 343 v-1.1 M508 203.6 v1.1 M514.7 343 v-1.1 M514.7 203.6 v1.1 M519.8 343 v-1.1 M519.8 203.6 v1.1 M524 343 v-1.1 M524 203.6 v1.1 M527.6 343 v-1.1 M527.6 203.6 v1.1 M530.7 343 v-1.1 M530.7 203.6 v1.1 M533.4 343 v-1.1 M533.4 203.6 v1.1 M535.8 343 v-2.2 M535.8 203.6 v2.2 M323.5 203.6 h2.2 M535.8 203.6 h-2.2 M323.5 226.8 h2.2 M535.8 226.8 h-2.2 M323.5 250.1 h2.2 M535.8 250.1 h-2.2 M323.5 273.3 h2.2 M535.8 273.3 h-2.2 M323.5 296.5 h2.2 M535.8 296.5 h-2.2 M323.5 319.8 h2.2 M535.8 319.8 h-2.2 M323.5 343 h2.2 M535.8 343 h-2.2"/>
<rect class="ax" x="323.5" y="203.6" width="212.3" height="139.4"/>
<text class="tl" text-anchor="end" x="318.9" y="207.8">60</text>
<text class="tl" text-anchor="end" x="318.9" y="231">40</text>
<text class="tl" text-anchor="end" x="318.9" y="254.3">20</text>
<text class="tl" text-anchor="end" x="318.9" y="277.5">0</text>
<text class="tl" text-anchor="end" x="318.9" y="300.7">-20</text>
<text class="tl" text-anchor="end" x="318.9" y="324">-40</text>
<text class="tl" text-anchor="end" x="318.9" y="347.2">-60</text>
<text class="tl" x="315.3" y="360.8">10<tspan class="ex" dy="-5">5</tspan></text>
<text class="tl" x="368.4" y="360.8">10<tspan class="ex" dy="-5">6</tspan></text>
<text class="tl" x="421.4" y="360.8">10<tspan class="ex" dy="-5">7</tspan></text>
<text class="tl" x="474.5" y="360.8">10<tspan class="ex" dy="-5">8</tspan></text>
<text class="tl" x="527.6" y="360.8">10<tspan class="ex" dy="-5">9</tspan></text>
<text class="lb" text-anchor="middle" x="429.6" y="374.4">f (Hz)</text>
<text class="lb yl" text-anchor="middle" transform="translate(294.2 273.5) rotate(-90)">Z<tspan class="sb" dy="3.8">in,4</tspan><tspan dy="-3.8"> (dB</tspan><tspan class="sb" dy="3.8">Ω</tspan><tspan dy="-3.8">)</tspan></text>
</g>
<g>
<rect x="428.5" y="197.5" width="81" height="51" fill="#fff" stroke="#4a4a4a" stroke-width="1.1"/>
<path class="c k" d="M431 204.7 H462.8"/>
<path class="c b" d="M431 217.1 H462.8"/>
<path class="c r" d="M431 229.2 H462.8"/>
<path class="c g" d="M431 241.6 H462.8"/>
<text class="lg" x="465.6" y="208">Mask</text>
<text class="lg" x="465.6" y="220.3">Iter 20</text>
<text class="lg" x="465.6" y="232.5">Iter 6</text>
<text class="lg" x="465.6" y="244.8">No Decap</text>
</g>
</svg>
</body></html>
